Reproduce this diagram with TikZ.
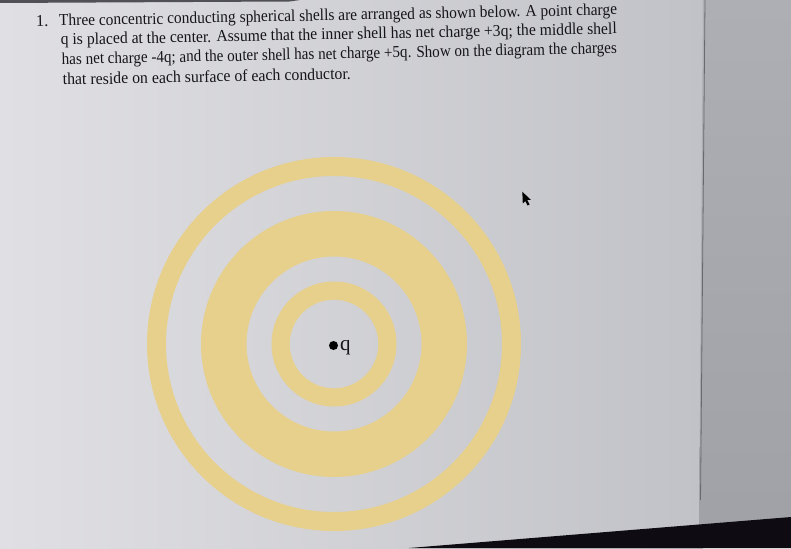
\documentclass[tikz,border=0pt]{standalone}
\usepackage{fontspec}
\usepackage{graphicx}
\setmainfont{Liberation Serif}
\newcommand\fitln[2]{\resizebox{#1}{\height}{#2}}
\definecolor{ringc}{RGB}{231,207,140}
\definecolor{bgA}{RGB}{224,224,228}
\definecolor{bgB}{RGB}{193,194,199}
\definecolor{panA}{RGB}{174,175,180}
\definecolor{panB}{RGB}{160,161,166}
\definecolor{txtc}{RGB}{22,20,24}
\begin{document}
\begin{tikzpicture}[x=1pt,y=-1pt,
  txt/.style={inner sep=0pt,anchor=base west,rotate=1.15,text=txtc,
    font=\fontsize{16.6}{19}\selectfont},
  ring/.style={fill=ringc,even odd rule,draw=none}]
\useasboundingbox (0,0) rectangle (791,548);
% background
\shade[left color=bgA,right color=bgB] (0,0) rectangle (703,548);
\shade[top color=panA,bottom color=panB] (703,0) -- (791,0) -- (791,548) -- (699,548) -- cycle;
\draw[line width=0.8pt,color={rgb,255:red,105;green,106;blue,111}] (705,0) -- (700.5,500);
\fill[color={rgb,255:red,80;green,80;blue,86}] (0,0) -- (300,0) -- (290,1.5) -- (0,3) -- cycle;
\fill[color={rgb,255:red,14;green,12;blue,18}] (409,548) -- (791,517) -- (791,548) -- cycle;
% shells
\coordinate (c) at (334,344);
\path[ring] (c) circle[radius=187] (c) circle[radius=168];
\path[ring] (c) circle[radius=133] (c) circle[radius=87.5];
\path[ring] (c) circle[radius=62.5] (c) circle[radius=44.3];
% question text
\node[txt] (num) at (36,26.5) {1.};
\node[txt] (l1) at (59,26) {\fitln{558pt}{Three concentric conducting spherical shells are arranged as shown below. A point charge}};
\node[txt] (l2) at (60.7,45) {\fitln{556pt}{q is placed at the center. Assume that the inner shell has net charge +3q; the middle shell}};
\node[txt] (l3) at (61.7,64.5) {\fitln{555pt}{has net charge -4q; and the outer shell has net charge +5q. Show on the diagram the charges}};
\node[txt] (l4) at (62.7,85) {\fitln{288pt}{that reside on each surface of each conductor.}};
% point charge
\node[circle,fill=black,inner sep=0pt,minimum size=9pt] (dot) at (333.5,345.5) {};
\node[inner sep=0pt,anchor=base west,text=txtc,font=\fontsize{21}{24}\selectfont] (q) at (340,350.5) {q};
% cursor
\fill[black] (522.3,191.7) -- (522.8,203.5) -- (525.3,201) -- (527.5,205.5) -- (529.5,204.5) -- (527.3,200) -- (530.8,199.8) -- cycle;
\end{tikzpicture}
\end{document}
